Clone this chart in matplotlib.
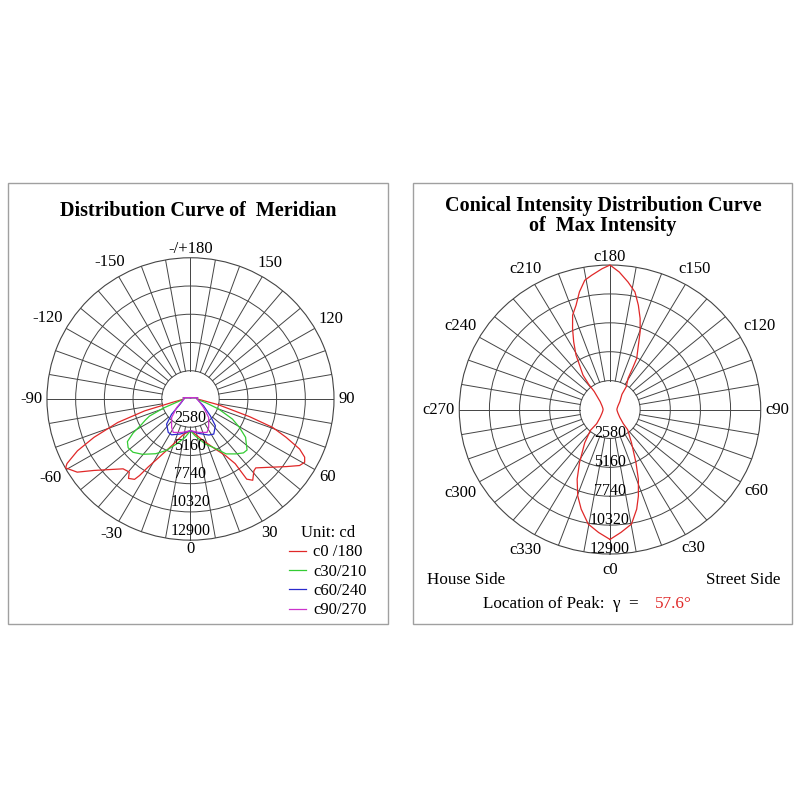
import numpy as np
import matplotlib
matplotlib.use("Agg")
import matplotlib.pyplot as plt
from matplotlib.patches import Rectangle

plt.rcParams["font.family"] = ["Liberation Serif", "DejaVu Serif"]

# ring values in cd
rings = [2580, 5160, 7740, 10320, 12900]
r_max = 12900

# meridian curves: gamma (deg) and intensity (cd); right half = C, left half = C+180
c0_gamma = [0, 7.5, 17, 26, 31.3, 34.2, 34.6, 37, 41, 43, 48.6, 54.3, 58.2, 60.6, 62.6, 65, 67.8, 70.6, 73, 78, 84, 90]
c0_cd = [2900, 3240, 3990, 5090, 6060, 7140, 8900, 9300, 8690, 8610, 9440, 10590, 11540, 11780, 11560, 10820, 9290, 7830, 5600, 2600, 1000, 600]
c180_gamma = [0, 11, 21, 28, 31.5, 33.2, 34.4, 37.5, 39.5, 43.5, 48, 53, 56.7, 60.7, 62, 65, 68, 71.8, 75.2, 78.9, 85, 90]
c180_cd = [2900, 3300, 4500, 6050, 7300, 8360, 8900, 9150, 8650, 8800, 9630, 10850, 12180, 12870, 12570, 11210, 9350, 6880, 4260, 1730, 800, 600]

c30_gamma = [0, 7, 18, 26, 32.5, 39, 44, 47.5, 51, 54.7, 59.5, 64, 70, 76, 82, 90]
c30_cd = [2900, 3390, 4330, 5000, 5950, 6460, 6850, 6900, 6450, 6070, 5100, 4200, 2700, 1400, 800, 600]
c210_gamma = [0, 8, 17, 25, 32, 40.5, 46.7, 51.5, 55.5, 59, 62, 64.5, 67, 71.3, 78, 85, 90]
c210_cd = [2900, 3550, 4300, 5200, 5900, 6650, 7100, 7160, 6880, 6000, 5000, 4500, 4000, 2500, 1100, 700, 600]

c60_gamma = [0, 13, 26.4, 33.1, 42.4, 49.2, 61.7, 75, 90]
c60_cd = [2900, 3230, 3680, 3830, 3320, 2360, 1340, 800, 600]
c240_gamma = [0, 16.3, 27.4, 33.2, 43, 50.6, 62.7, 75, 90]
c240_cd = [2900, 3340, 3690, 3650, 3150, 2190, 1060, 750, 600]

c90_gamma = [0, 13.4, 25.9, 32.1, 44, 56.3, 70, 90]
c90_cd = [2900, 3140, 3400, 3075, 2355, 1420, 900, 600]
c270_gamma = [0, 14.4, 26.8, 33.1, 45, 57.6, 70, 90]
c270_cd = [2900, 3160, 3425, 3107, 2398, 1470, 900, 600]

# small upward light above horizontal, shared by all planes
tail_gamma = [100, 120, 150, 180]
tail_cd = [650, 240, 135, 120]

# conical curve at the peak gamma, C angle (deg) and cd
peak_gamma = 57.6
cone_c = [0, 4.9, 10.2, 14.4, 17.5, 21.3, 25.1, 31.8, 40, 42,
          50, 65, 80, 90, 100, 115, 130, 143, 145.7, 151,
          152.3, 153.4, 157.1, 159.6, 162.4, 165.4, 168.5, 172.3, 176.3, 180,
          183.1, 187.5, 190.6, 194, 197.3, 200.8, 203.9, 207.2, 210.9, 213.3,
          216.9, 219, 220, 230, 245, 260, 270, 280, 295, 310,
          318, 318, 323.9, 331.2, 335.7, 340.3, 344.5, 349.7, 354.9, 360]
cone_cd = [11600, 11010, 10390, 9185, 8085, 6686, 5241, 3490, 2355, 1700,
           1100, 750, 620, 590, 620, 750, 1100, 1700, 2476, 3186,
           4153, 5107, 6247, 7403, 8527, 9625, 10710, 11490, 12300, 12900,
           12590, 12085, 11740, 10820, 9760, 9010, 7910, 6800, 5670, 4750,
           3860, 2900, 2100, 1100, 750, 620, 590, 620, 750, 1100,
           1700, 2500, 3672, 5416, 6836, 8190, 9230, 10400, 11020, 11600]

angle_ticks = list(range(0, 360, 30))
meridian_labels = ["0", "30", "60", "90", "120", "150", "-/+180", "-150", "-120", "-90", "-60", "-30"]
cone_labels = ["c%d" % a for a in angle_ticks]

grid_color = "#444444"
red = "#e02828"
colors = [red, "#33cc33", "#2a2acc", "#cc33cc"]

outer_labels = []  # (annotation, angle in rad, extra px) placed after a first draw


def meridian(g_r, cd_r, g_l, cd_l):
    gr = np.radians(np.r_[g_r, tail_gamma])
    rr = np.r_[cd_r, tail_cd]
    gl = -np.radians(np.r_[g_l, tail_gamma])
    rl = np.r_[cd_l, tail_cd]
    return np.r_[gr[::-1], gl[1:]], np.r_[rr[::-1], rl[1:]]


def style_polar(ax, labels, ring_dy, bottom_extra=0):
    ax.set_aspect("auto")
    ax.set_theta_zero_location("S")
    ax.set_theta_direction(1)
    ax.set_ylim(0, r_max)
    ax.set_yticks(rings[:-1])
    ax.set_yticklabels([])
    ax.set_xticks([])
    ax.yaxis.grid(True, color=grid_color, lw=0.7)
    ax.spines["polar"].set_color(grid_color)
    ax.spines["polar"].set_linewidth(0.8)
    for a in np.arange(0, 360, 10):
        ax.plot([np.radians(a)] * 2, [rings[0], r_max], color=grid_color, lw=0.7, zorder=1)
    for r in rings:
        ax.annotate(str(r), xy=(0, r), xytext=(0, ring_dy), textcoords="offset points",
                    ha="center", va="center", fontsize=11.5, zorder=6)
    for a, lbl in zip(angle_ticks, labels):
        th = np.radians(a)
        ann = ax.annotate(lbl, xy=(th, r_max), xytext=(0, 0), textcoords="offset points",
                          ha="center", va="center", fontsize=12, annotation_clip=False)
        outer_labels.append((ann, th, bottom_extra if a == 0 else 0))


fig = plt.figure(figsize=(8, 8), dpi=100)

# panel frames
fig.add_artist(Rectangle((0.01, 0.22), 0.475, 0.5512, transform=fig.transFigure,
                         fill=False, edgecolor="#a0a0a0", lw=1))
fig.add_artist(Rectangle((0.5162, 0.22), 0.4738, 0.5512, transform=fig.transFigure,
                         fill=False, edgecolor="#a0a0a0", lw=1))

# left: meridian distribution
axL = fig.add_axes([0.0587, 0.3248, 0.3588, 0.353], projection="polar")
style_polar(axL, meridian_labels, 6.8)
planes = [
    ("c0 /180", c0_gamma, c0_cd, c180_gamma, c180_cd),
    ("c30/210", c30_gamma, c30_cd, c210_gamma, c210_cd),
    ("c60/240", c60_gamma, c60_cd, c240_gamma, c240_cd),
    ("c90/270", c90_gamma, c90_cd, c270_gamma, c270_cd),
]
handles = []
for (name, gr, cr, gl, cl), col in zip(planes, colors):
    th, r = meridian(gr, cr, gl, cl)
    ln, = axL.plot(th, r, color=col, lw=0.9, label=name, zorder=4, clip_on=False)
    handles.append(ln)

fig.text(198 / 800, 1 - 211 / 800, "Distribution Curve of  Meridian", ha="center", va="center",
         fontsize=14.5, fontweight="bold")
fig.legend(handles=handles, title="Unit: cd", loc="upper left", bbox_to_anchor=(289 / 800, 1 - 525 / 800),
           frameon=False, fontsize=12, title_fontsize=12, handlelength=1.0, handletextpad=0.45,
           labelspacing=0.2, borderpad=0, borderaxespad=0)

# right: conical distribution at max intensity
axR = fig.add_axes([0.5741, 0.3075, 0.3768, 0.3612], projection="polar")
style_polar(axR, cone_labels, 3.6, bottom_extra=8)
axR.plot(np.radians(cone_c), cone_cd, color=red, lw=0.9, zorder=4, clip_on=False)

fig.text(603 / 800, 1 - 216 / 800, "Conical Intensity Distribution Curve\nof  Max Intensity",
         ha="center", va="center", fontsize=14.5, fontweight="bold", linespacing=1.0)
fig.text(427 / 800, 1 - 580 / 800, "House Side", ha="left", va="center", fontsize=12.3)
fig.text(781 / 800, 1 - 580 / 800, "Street Side", ha="right", va="center", fontsize=12.3)
fig.text(483 / 800, 1 - 604 / 800, "Location of Peak:  \u03b3  =", ha="left", va="center", fontsize=12.3)
fig.text(655 / 800, 1 - 604 / 800, "%.1f\u00b0" % peak_gamma, ha="left", va="center",
         fontsize=12.3, color=red)

# push the angle labels just outside the outer ring, according to their size
fig.canvas.draw()
px2pt = 72 / fig.dpi
for ann, th, extra in outer_labels:
    bb = ann.get_window_extent()
    s, c = np.sin(th), np.cos(th)
    e = abs(s) * (bb.width / 2 + 4.5) + abs(c) * (bb.height / 2 + 0.5) + extra
    ann.xyann = (e * s * px2pt, -e * c * px2pt)

fig.savefig("out.png", dpi=100, facecolor="white")
